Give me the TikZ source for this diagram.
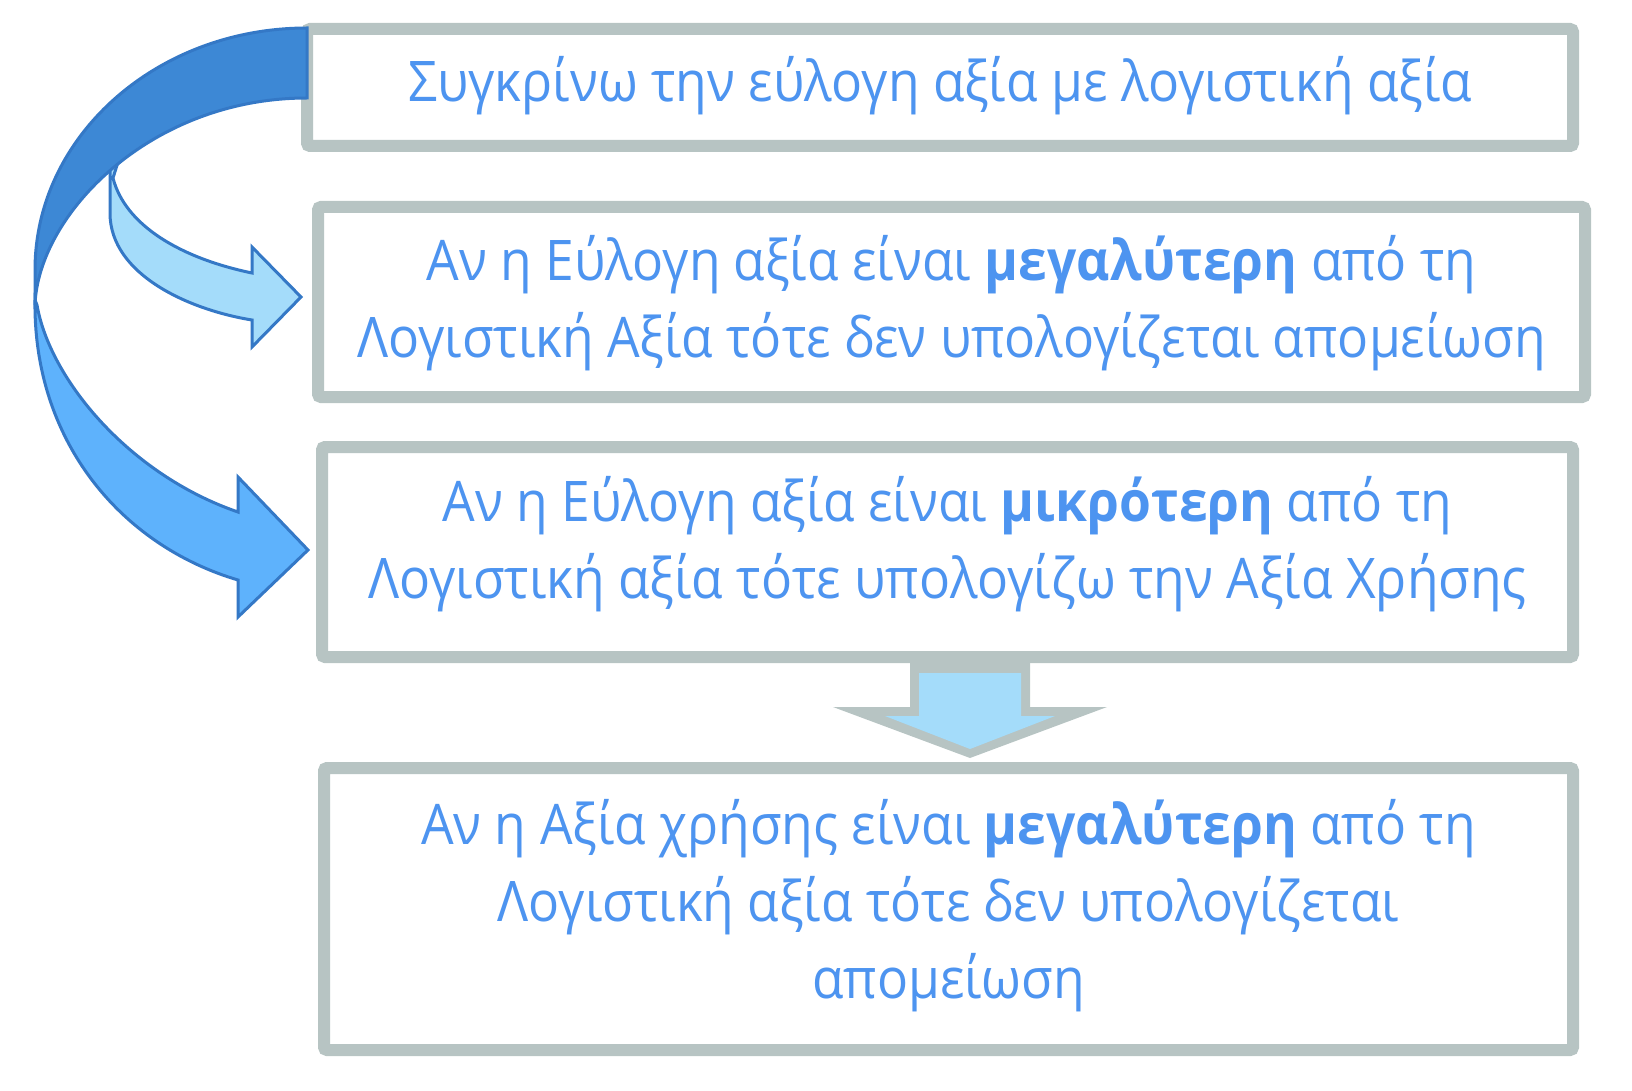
\documentclass[tikz,border=0pt]{standalone}
\usepackage{fontspec}
\setmainfont{Open Sans}[FakeStretch=0.92]
\definecolor{boxgray}{RGB}{183,196,195}
\definecolor{txtblue}{RGB}{77,148,240}
\definecolor{darkblue}{RGB}{61,136,213}
\definecolor{midblue}{RGB}{94,178,252}
\definecolor{lightblue}{RGB}{164,220,250}
\definecolor{edgeblue}{RGB}{52,120,198}
\begin{document}
\begin{tikzpicture}[x=1pt,y=-1pt,
    box/.style={draw=boxgray,line width=12pt,rounded corners=3pt,fill=white},
    txt/.style={text=txtblue,anchor=base,align=center,inner sep=0pt,font=\fontsize{56}{77}\selectfont},
    arr/.style={draw=edgeblue,line width=3pt,line join=miter}]
    \useasboundingbox (0,0) rectangle (1632,1091);
    \node[box,minimum width=1266pt,minimum height=117pt] (b1) at (940,87.5) {};
    \node[box,minimum width=1267pt,minimum height=190pt] (b2) at (951.5,302) {};
    \node[box,minimum width=1251pt,minimum height=210pt] (b3) at (947.5,552) {};
    \node[box,minimum width=1249pt,minimum height=282pt] (b4) at (948.5,909) {};
    %base = last line
    \node[txt] (t1) at (940,102) {Συγκρίνω την εύλογη αξία με λογιστική αξία};
    \node[txt] (t2) at (951.5,357) {Αν η Εύλογη αξία είναι \textbf{μεγαλύτερη} από τη\\Λογιστική Αξία τότε δεν υπολογίζεται απομείωση};
    \node[txt] (t3) at (947.5,598) {Αν η Εύλογη αξία είναι \textbf{μικρότερη} από τη\\Λογιστική αξία τότε υπολογίζω την Αξία Χρήσης};
    \node[txt] (t4) at (948.5,998) {Αν η Αξία χρήσης είναι \textbf{μεγαλύτερη} από τη\\Λογιστική αξία τότε δεν υπολογίζεται\\απομείωση};
    %curved arrows
    \filldraw[arr,fill=lightblue] (110,140) -- (110,213) .. controls (110,275) and (190,310) .. (252,320) -- (252,347) -- (301,297) -- (252,247) -- (252,273) .. controls (180,258) and (125,225) .. (113,178) -- (125,140) -- cycle;
    \filldraw[arr,fill=darkblue] (307,28) .. controls (157,28) and (35,136) .. (35,270) -- (35,305) .. controls (38,215) and (150,98) .. (307,98) -- cycle;
    \filldraw[arr,fill=midblue] (35,300) .. controls (33,440) and (120,545) .. (238,580) -- (238,617) -- (308,550) -- (238,477) -- (238,512) .. controls (130,475) and (50,380) .. (37,305) -- cycle;
    %down arrow
    \fill[boxgray] (910,663) -- (1030,663) -- (1030,707) -- (1107,707) -- (970,758) -- (833,707) -- (910,707) -- cycle;
    \fill[lightblue] (919,673) -- (1021,673) -- (1021,716) -- (1055,716) -- (970,749) -- (885,716) -- (919,716) -- cycle;
\end{tikzpicture}
\end{document}
